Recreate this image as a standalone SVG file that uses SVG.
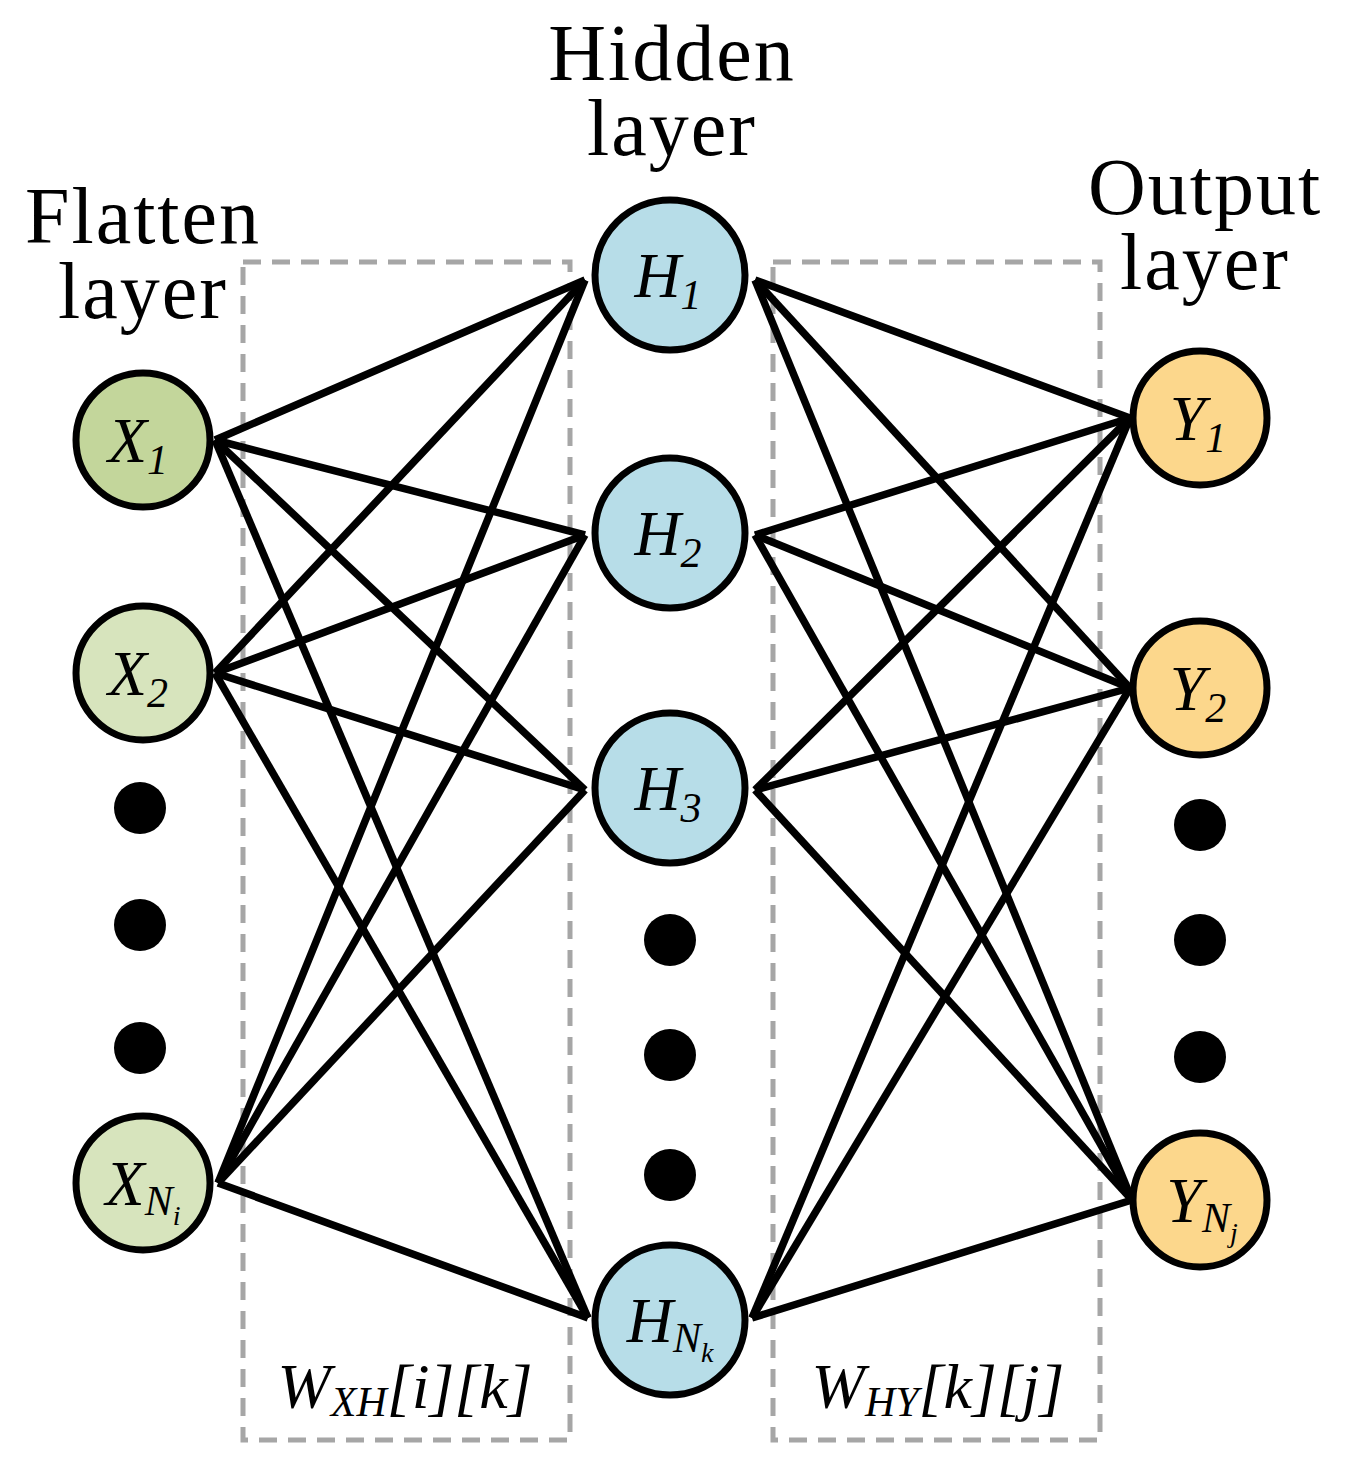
<svg xmlns="http://www.w3.org/2000/svg" width="1345" height="1462" viewBox="0 0 1345 1462">
<style>
.t{font-family:"Liberation Serif",serif;font-size:80px;fill:#000;text-anchor:middle;letter-spacing:2px}
.n{font-family:"Liberation Serif",serif;font-style:italic;font-size:64px;fill:#000;text-anchor:middle}
.s{font-size:42px}
.c{stroke:#000;stroke-width:7}
.l line{stroke:#000;stroke-width:7.5}
.box{fill:none;stroke:#a6a6a6;stroke-width:5;stroke-dasharray:18 11}
</style>
<rect width="1345" height="1462" fill="#fff"/>
<rect class="box" x="243" y="262" width="327" height="1178"/>
<rect class="box" x="773" y="262" width="327" height="1178"/>
<g id="connectors" class="l">
<line x1="215" y1="440" x2="585" y2="280"/><line x1="215" y1="440" x2="585" y2="535"/><line x1="215" y1="440" x2="585" y2="790"/><line x1="215" y1="440" x2="588" y2="1318"/>
<line x1="215" y1="673" x2="585" y2="280"/><line x1="215" y1="673" x2="585" y2="535"/><line x1="215" y1="673" x2="585" y2="790"/><line x1="215" y1="673" x2="588" y2="1318"/>
<line x1="218" y1="1183" x2="585" y2="280"/><line x1="218" y1="1183" x2="585" y2="535"/><line x1="218" y1="1183" x2="585" y2="790"/><line x1="218" y1="1183" x2="588" y2="1318"/>
<line x1="755" y1="280" x2="1130" y2="418"/><line x1="755" y1="280" x2="1130" y2="688"/><line x1="755" y1="280" x2="1132" y2="1200"/>
<line x1="755" y1="535" x2="1130" y2="418"/><line x1="755" y1="535" x2="1130" y2="688"/><line x1="755" y1="535" x2="1132" y2="1200"/>
<line x1="755" y1="790" x2="1130" y2="418"/><line x1="755" y1="790" x2="1130" y2="688"/><line x1="755" y1="790" x2="1132" y2="1200"/>
<line x1="752" y1="1318" x2="1130" y2="418"/><line x1="752" y1="1318" x2="1130" y2="688"/><line x1="752" y1="1318" x2="1132" y2="1200"/>
</g>
<text class="t" x="143" y="243">Flatten</text><text class="t" x="143" y="318">layer</text>
<text class="t" x="672" y="80">Hidden</text><text class="t" x="672" y="155">layer</text>
<text class="t" x="1205" y="214">Output</text><text class="t" x="1205" y="289">layer</text>
<g id="X1"><circle class="c" cx="143" cy="440" r="67" fill="#c3d69b"/><text class="n" x="138" y="462">X<tspan class="s" dy="12">1</tspan></text></g>
<g id="X2"><circle class="c" cx="143" cy="673" r="67" fill="#d7e4bd"/><text class="n" x="138" y="695">X<tspan class="s" dy="12">2</tspan></text></g>
<g id="XN"><circle class="c" cx="143" cy="1183" r="67" fill="#d7e4bd"/><text class="n" x="143" y="1205">X<tspan class="s" dy="10">N</tspan><tspan style="font-size:28px" dy="10">i</tspan></text></g>
<g id="H1"><circle class="c" cx="670" cy="275" r="75" fill="#b7dde8"/><text class="n" x="668" y="297">H<tspan class="s" dy="12">1</tspan></text></g>
<g id="H2"><circle class="c" cx="670" cy="533" r="75" fill="#b7dde8"/><text class="n" x="668" y="555">H<tspan class="s" dy="12">2</tspan></text></g>
<g id="H3"><circle class="c" cx="670" cy="788" r="75" fill="#b7dde8"/><text class="n" x="668" y="810">H<tspan class="s" dy="12">3</tspan></text></g>
<g id="HN"><circle class="c" cx="670" cy="1320" r="75" fill="#b7dde8"/><text class="n" x="670" y="1342">H<tspan class="s" dy="10">N</tspan><tspan style="font-size:28px" dy="10">k</tspan></text></g>
<g id="Y1"><circle class="c" cx="1200" cy="418" r="67" fill="#fcd78c"/><text class="n" x="1198" y="440">Y<tspan class="s" dy="12">1</tspan></text></g>
<g id="Y2"><circle class="c" cx="1200" cy="688" r="67" fill="#fcd78c"/><text class="n" x="1198" y="710">Y<tspan class="s" dy="12">2</tspan></text></g>
<g id="YN"><circle class="c" cx="1200" cy="1200" r="67" fill="#fcd78c"/><text class="n" x="1202" y="1222">Y<tspan class="s" dy="10">N</tspan><tspan style="font-size:28px" dy="10">j</tspan></text></g>
<g id="dots">
<circle cx="140" cy="808" r="26"/><circle cx="140" cy="925" r="26"/><circle cx="140" cy="1048" r="26"/>
<circle cx="670" cy="940" r="26"/><circle cx="670" cy="1055" r="26"/><circle cx="670" cy="1175" r="26"/>
<circle cx="1200" cy="825" r="26"/><circle cx="1200" cy="940" r="26"/><circle cx="1200" cy="1057" r="26"/>
</g>
<text class="n" x="405" y="1408">W<tspan class="s" dy="8">XH</tspan><tspan dy="-8">[i][k]</tspan></text>
<text class="n" x="938" y="1408">W<tspan class="s" dy="8">HY</tspan><tspan dy="-8">[k][j]</tspan></text>
</svg>
